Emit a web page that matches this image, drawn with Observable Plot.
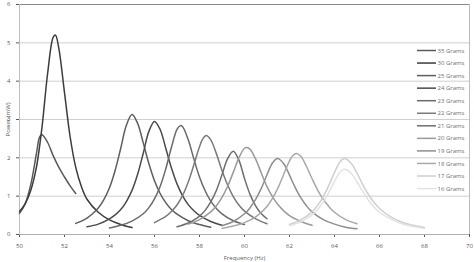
<!DOCTYPE html>
<html><head><meta charset="utf-8">
<script src="https://cdn.jsdelivr.net/npm/d3@7"></script>
<script src="https://cdn.jsdelivr.net/npm/@observablehq/plot@0.6"></script>
<style>
body{margin:0;background:#fff;}
#chart{position:relative;width:474px;height:262px;}
</style>
</head><body><div id="chart"></div>
<script>
const seriesNames = ["35 Grams","30 Grams","25 Grams","24 Grams","23 Grams","22 Grams","21 Grams","20 Grams","19 Grams","18 Grams","17 Grams","16 Grams"];
const seriesColors = ["#5a5a5a","#3c3c3c","#5e5e5e","#4a4a4a","#6a6a6a","#7a7a7a","#6e6e6e","#9a9a9a","#8e8e8e","#a8a8a8","#cfcfcf","#e2e2e2"];
const xTicks = [50,52,54,56,58,60,62,64,66,68,70];
const yTicks = [0,1,2,3,4,5,6];

const freq35 = [50,50.25,50.5,50.75,50.9,51,51.25,51.5,51.75,52,52.25,52.5];
const power35 = [0.55,0.8,1.3,2.1,2.55,2.6,2.4,2.05,1.75,1.5,1.27,1.07];
const freq30 = [50,50.25,50.5,50.75,51,51.25,51.5,51.6,51.75,52,52.25,52.5,52.75,53,53.5,54,54.5,55];
const power30 = [0.6,0.8,1.15,1.75,2.8,4.2,5.15,5.2,4.85,3.7,2.55,1.75,1.25,0.92,0.58,0.38,0.26,0.18];
const freq25 = [52.5,52.75,53,53.25,53.5,53.75,54,54.25,54.5,54.75,55,55.25,55.5,55.75,56,56.25,56.5,56.75,57,57.5,58,58.5];
const power25 = [0.29,0.35,0.43,0.54,0.69,0.91,1.22,1.67,2.25,2.85,3.13,2.9,2.39,1.85,1.40,1.07,0.83,0.65,0.53,0.36,0.26,0.19];
const freq24 = [53,53.5,54,54.25,54.5,54.75,55,55.25,55.5,55.75,56,56.25,56.5,56.75,57,57.25,57.5,57.75,58,58.5,59];
const power24 = [0.2,0.27,0.41,0.51,0.65,0.86,1.15,1.57,2.12,2.69,2.95,2.74,2.25,1.74,1.32,1.01,0.78,0.62,0.50,0.34,0.24];
const freq23 = [54,54.5,55,55.5,55.75,56,56.25,56.5,56.75,57,57.15,57.25,57.5,57.75,58,58.25,58.5,58.75,59,59.5,60];
const power23 = [0.17,0.24,0.35,0.54,0.70,0.93,1.25,1.71,2.27,2.74,2.84,2.81,2.47,1.97,1.50,1.14,0.87,0.68,0.54,0.36,0.26];
const freq22 = [56,56.5,56.75,57,57.25,57.5,57.75,58,58.15,58.3,58.5,58.75,59,59.25,59.5,59.75,60,60.5,61];
const power22 = [0.31,0.47,0.60,0.77,1.02,1.37,1.82,2.29,2.50,2.58,2.47,2.11,1.67,1.29,0.99,0.77,0.61,0.41,0.28];
const freq21 = [57,57.5,57.75,58,58.25,58.5,58.75,59,59.25,59.5,59.75,60,60.25,60.5,60.75,61];
const power21 = [0.20,0.30,0.38,0.48,0.63,0.85,1.15,1.56,1.98,2.17,1.94,1.46,1.04,0.74,0.54,0.41];
const freq20 = [57.5,58,58.5,58.75,59,59.25,59.5,59.75,60,60.1,60.25,60.5,60.75,61,61.25,61.5,62,62.5,63];
const power20 = [0.27,0.39,0.59,0.75,0.97,1.26,1.62,2.00,2.25,2.27,2.22,1.96,1.60,1.25,0.98,0.77,0.49,0.34,0.24];
const freq19 = [59,59.5,60,60.25,60.5,60.75,61,61.25,61.47,61.75,62,62.25,62.5,62.75,63,63.5,64,64.5,65];
const power19 = [0.23,0.34,0.54,0.70,0.92,1.21,1.56,1.87,1.98,1.84,1.55,1.23,0.96,0.75,0.59,0.39,0.27,0.19,0.15];
const freq18 = [59,59.5,60,60.5,61,61.25,61.5,61.75,62,62.15,62.3,62.5,62.75,63,63.25,63.5,63.75,64,64.5,65];
const power18 = [0.16,0.22,0.31,0.46,0.73,0.95,1.23,1.58,1.92,2.06,2.11,2.04,1.78,1.46,1.16,0.92,0.73,0.58,0.39,0.28];
const freq17 = [62,62.5,63,63.25,63.5,63.75,64,64.25,64.45,64.75,65,65.25,65.5,65.75,66,66.5,67,67.5,68];
const power17 = [0.26,0.38,0.59,0.76,0.99,1.28,1.62,1.90,1.98,1.85,1.60,1.31,1.05,0.84,0.68,0.46,0.32,0.24,0.18];
const freq16 = [62,62.5,63,63.25,63.5,63.75,64,64.25,64.45,64.75,65,65.25,65.5,65.75,66,66.5,67,67.5,68];
const power16 = [0.23,0.33,0.51,0.65,0.85,1.10,1.39,1.63,1.70,1.59,1.37,1.13,0.90,0.72,0.58,0.40,0.28,0.21,0.16];

const seriesFreq = [freq35,freq30,freq25,freq24,freq23,freq22,freq21,freq20,freq19,freq18,freq17,freq16];
const seriesPower = [power35,power30,power25,power24,power23,power22,power21,power20,power19,power18,power17,power16];

const rows = [];
seriesNames.forEach((name, i) => {
  seriesFreq[i].forEach((f, j) => rows.push({name, f, p: seriesPower[i][j]}));
});

const font = "'Open Sans', 'DejaVu Sans', sans-serif";
const chart = Plot.plot({
  width: 474, height: 262,
  marginLeft: 19, marginRight: 5, marginTop: 4, marginBottom: 28,
  style: {fontFamily: font, fontSize: "6px", color: "#595959", background: "#fff"},
  x: {domain: [50, 70], ticks: xTicks, tickFormat: d => d, tickSize: 3, label: "Frequency (Hz)", labelAnchor: "center", labelOffset: 25, labelArrow: "none"},
  y: {domain: [0, 6], ticks: yTicks, tickFormat: d => d, tickSize: 3, label: "Power (mW)", labelAnchor: "center", labelOffset: 14, labelArrow: "none"},
  color: {type: "ordinal", domain: seriesNames, range: seriesColors},
  marks: [
    Plot.ruleY(yTicks.filter(d => d > 0 && d < 6), {stroke: "#cfcfcf", strokeWidth: 1}),
    Plot.ruleY([6], {stroke: "#8a8a8a", strokeWidth: 1}),
    Plot.ruleX([70], {stroke: "#bdbdbd", strokeWidth: 1}),
    Plot.ruleX([50], {stroke: "#bdbdbd", strokeWidth: 1}),
    Plot.ruleY([0], {stroke: "#b0b0b0", strokeWidth: 1}),
    Plot.line(rows, {x: "f", y: "p", z: "name", stroke: "name", strokeWidth: 1.5, curve: "catmull-rom"})
  ]
});
document.getElementById("chart").appendChild(chart);

// legend inside the plot area, right side
const svg = d3.select(chart);
const lg = svg.append("g").attr("font-family", font).attr("font-size", 6).attr("fill", "#707070").attr("text-anchor", "start");
seriesNames.forEach((name, i) => {
  const y = 50.5 + i * 12.55;
  lg.append("line").attr("x1", 417).attr("x2", 436).attr("y1", y).attr("y2", y)
    .attr("stroke", seriesColors[i]).attr("stroke-width", 1.5);
  lg.append("text").attr("x", 437.5).attr("y", y).attr("dy", "0.35em").attr("text-anchor", "start").text(name);
});
</script>
</body></html>
